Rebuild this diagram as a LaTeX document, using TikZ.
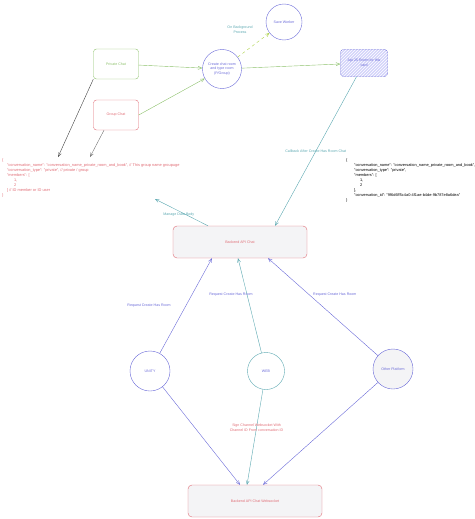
\documentclass[tikz,border=0pt]{standalone}
\usepackage{fontspec}
\setmainfont{Liberation Sans}
\usetikzlibrary{arrows,positioning,patterns}
\definecolor{chatgreen}{HTML}{8CC06A}
\definecolor{groupred}{HTML}{E06C75}
\definecolor{roomblue}{HTML}{6A6AD8}
\definecolor{calmteal}{HTML}{5AA7B0}
\definecolor{lavender}{HTML}{D4D4FA}
\definecolor{boxgray}{HTML}{F4F4F6}

\begin{document}
\begin{tikzpicture}[
    x=1pt, y=-1pt,
    >=angle 45,
    font=\fontsize{3.6}{4.9}\selectfont,
    chatbox/.style={
		rectangle,
		rounded corners=3pt,
		draw,
		text centered,
		minimum width=45pt,
		minimum height=30pt
	},
    room/.style={
		circle,
		draw=roomblue,
		text=roomblue,
		align=center,
		inner sep=1pt
	},
    backend/.style={
		rectangle,
		rounded corners=4pt,
		draw=groupred,
		fill=boxgray,
		text=groupred,
		minimum width=134pt,
		minimum height=32pt
	},
    label/.style={
		align=center,
		inner sep=1pt
	},
    json/.style={
		anchor=north west,
		align=left,
		inner sep=0pt,
		font=\fontsize{3.9}{5}\selectfont
	}
  ]
  \useasboundingbox (0,0) rectangle (474,519);

    % the blocks on top
  \node [chatbox, draw=chatgreen, text=chatgreen] (private) at (116,64) {Private Chat};
  \node [chatbox, draw=groupred, text=groupred] (group) at (116,115) {Group Chat};
  \node [room, minimum size=39pt] (create) at (222,69) {Create chat room\\and type room\\(P/Group)};
  \node [room, minimum size=36pt] (worker) at (284,22) {Save Worker};
  \node [label, text=calmteal] (bglabel) at (240,30) {On Background\\Process};
  \node [chatbox, draw=roomblue, text=roomblue, fill=lavender,
         postaction={pattern=north east lines, pattern color=white},
         minimum width=47pt, minimum height=27pt, align=center] (api) at (364,63)
   {Api JS Room for this\\card};

    % json bodies
  \node [json, text=groupred] (jsonleft) at (2,158)
 {%
  \{\\
  \hspace*{5pt}"conversation\_name": "conversation\_name\_private\_room\_and\_book", // This group name groupuge\\
  \hspace*{5pt}"conversation\_type": "private", // private / group\\
  \hspace*{5pt}"members": [\\
  \hspace*{12pt}1,\\
  \hspace*{12pt}2\\
  \hspace*{5pt}] // ID member or ID user\\
  \}
 };
  \node [json] (jsonright) at (346,158)
 {%
  \{\\
  \hspace*{8pt}"conversation\_name": "conversation\_name\_private\_room\_and\_book",\\
  \hspace*{8pt}"conversation\_type": "private",\\
  \hspace*{8pt}"members": [\\
  \hspace*{14pt}1,\\
  \hspace*{14pt}2\\
  \hspace*{8pt}],\\
  \hspace*{8pt}"conversation\_id": "9f6d6ff5c4a0-4f1ae-b4de-9b787e8a6dea"\\
  \}
 };

    % backends and clients
  \node [backend] (backend) at (240,242) {Backend API Chat};
  \node [backend] (socket) at (255,501) {Backend API Chat Websocket};
  \node [room, minimum size=40pt] (unity) at (150,371) {UNITY};
  \node [room, minimum size=37pt, draw=calmteal] (web) at (266,371) {WEB};
  \node [room, minimum size=40pt, fill=boxgray] (other) at (393,369) {Other Platform};

  \coordinate (privin) at (58,157);
  \coordinate (groupin) at (90,157);
  \coordinate (sortin) at (155,199);

 \draw [->, chatgreen] (private) -- (create);
 \draw [->, chatgreen] (group.east) -- (create);
 \draw [->, chatgreen] (create) -- (api);
 \draw [->, dashed, chatgreen!70!yellow] (create) -- (worker);
 \draw [->, black!75] (private.south west) -- (privin);
 \draw [->, black!55] ([xshift=-12pt]group.south) -- (groupin);
 \draw [->, calmteal] (api) -- node [label, pos=0.5] {Callback After Create Has Room Chat} ([xshift=35pt]backend.north);
 \draw [->, calmteal] (backend) -- node [label, pos=0.55, below=1pt] {Manage Data Body} (sortin);

 \draw [->, roomblue] (unity) -- node [label, text=roomblue, pos=0.5, left=14pt] {Request Create Has Room} ([xshift=-28pt]backend.south);
 \draw [->, calmteal] (web) -- node [label, text=roomblue, pos=0.62, xshift=-16pt] {Request Create Has Room} ([xshift=-2pt]backend.south);
 \draw [->, roomblue] (other) -- node [label, text=roomblue, pos=0.6, above right=0pt] {Request Create Has Room} ([xshift=28pt]backend.south);

 \draw [->, roomblue] (unity) -- ([xshift=-15pt]socket.north);
 \draw [->, calmteal] (web) -- node [label, text=groupred, pos=0.4, font=\fontsize{3.6}{5.2}\selectfont] {Sign Channel Websocket With\\Channel ID From conversation ID} ([xshift=-8pt]socket.north);
 \draw [->, roomblue] (other) -- ([xshift=8pt]socket.north);

\end{tikzpicture}
\end{document}
